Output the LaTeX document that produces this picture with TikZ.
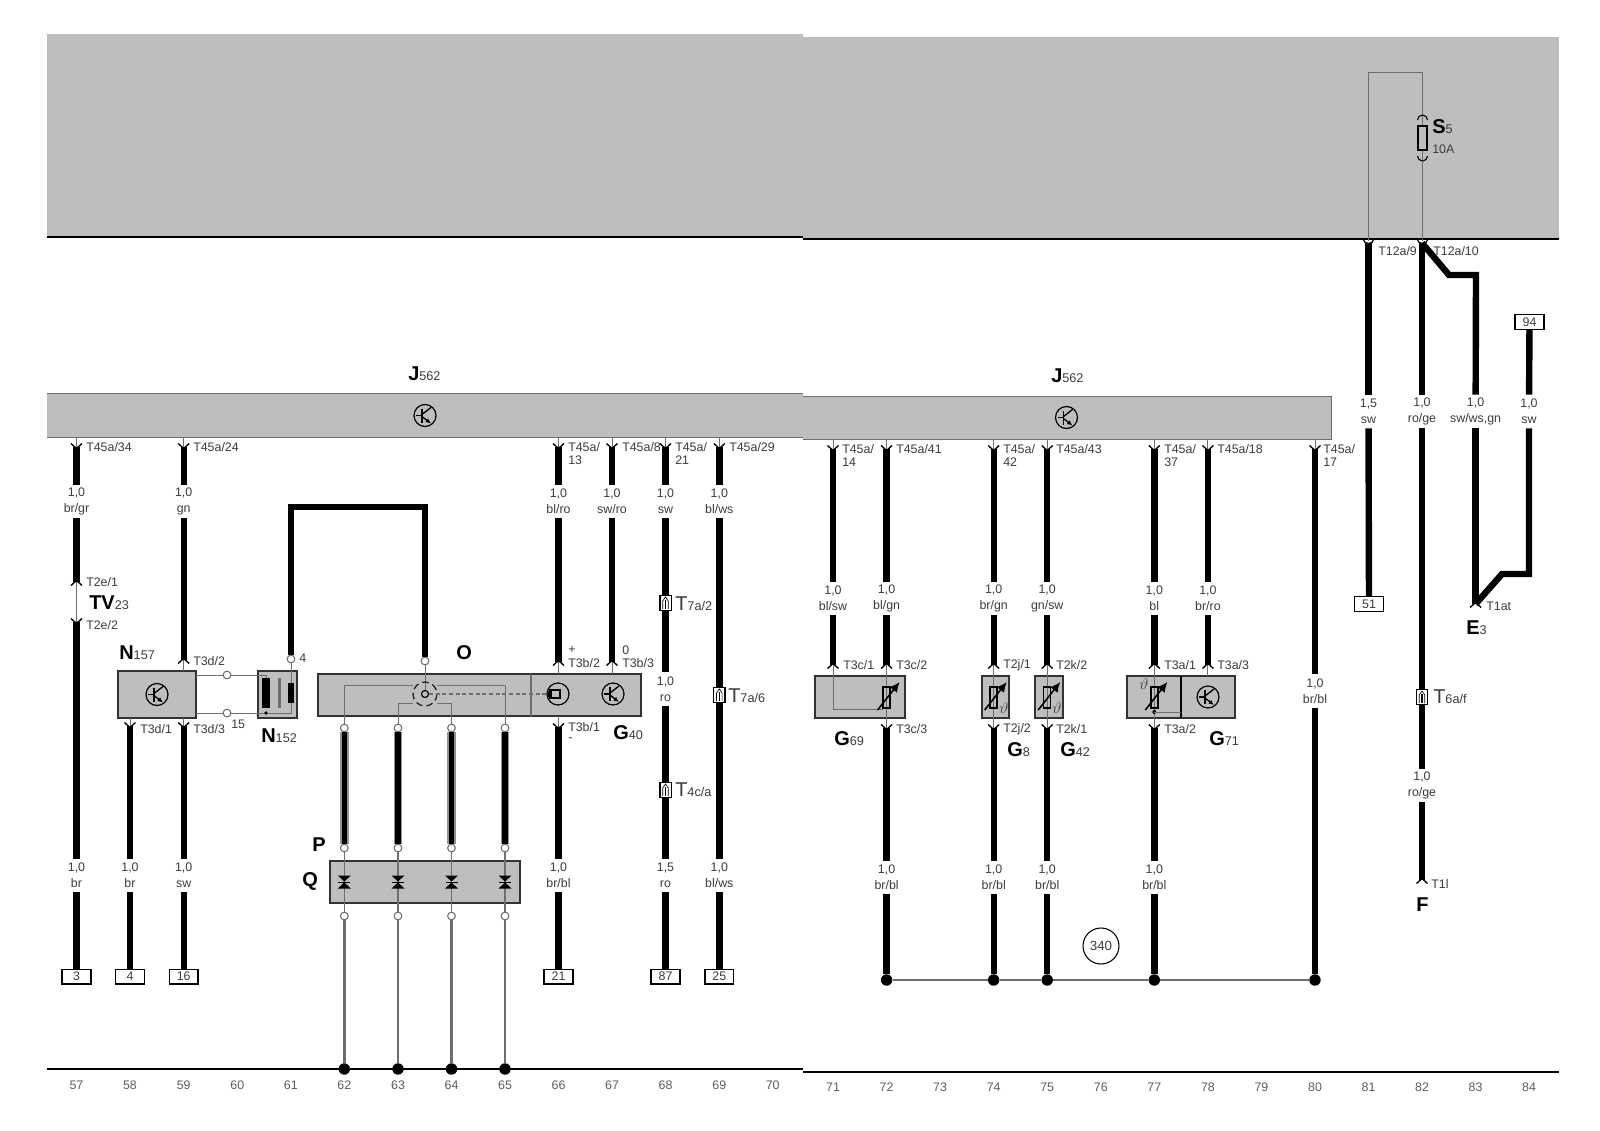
\documentclass[tikz,border=0pt]{standalone}
\usepackage{fontspec}
\setmainfont{Liberation Sans}
\usetikzlibrary{arrows.meta}
\definecolor{band}{HTML}{BEBEBE}
\definecolor{txt}{HTML}{3C3C3C}
\definecolor{thinc}{HTML}{6E6E6E}
\newcounter{lb}
\tikzset{
 wire/.style={line width=4.8pt,black,line cap=butt,line join=miter},
 halo/.style={line width=6.4pt,thinc!75},
 thinl/.style={line width=0.7pt,thinc},
 greyl/.style={line width=1.9pt,thinc},
 pinw/.style={line width=1pt,black},
 lab/.style={font=\fontsize{9.3}{10}\selectfont,text=txt,inner sep=0pt,anchor=west,align=left},
 num/.style={font=\fontsize{9.3}{10}\selectfont,text=thinc!85!black,inner sep=0pt},
 xs/.style={font=\fontsize{9.3}{12}\selectfont,text=txt,inner sep=0pt,align=center,minimum height=24.9pt,minimum width=10pt},
 endbox/.style={draw=black,line width=1pt,fill=white,font=\fontsize{9.3}{10}\selectfont,text=txt,inner sep=0pt,minimum width=21.6pt,minimum height=11pt},
 big/.style={inner sep=0pt,anchor=west,text=black},
 gb/.style={draw=black!80,line width=1.2pt,fill=band},
 pinc/.style={circle,draw=thinc,line width=0.8pt,fill=white,inner sep=0pt,minimum size=5.8pt},
 jdot/.style={circle,fill=black,inner sep=0pt,minimum size=8.6pt},
 conn/.style={draw=black,line width=0.9pt,fill=white,inner sep=0pt,minimum width=8.4pt,minimum height=11pt},
}
\newcommand\lbl[3]{\stepcounter{lb}\node[lab] (L\arabic{lb}) at (#1,#2) {#3};}
\newcommand\thet[2]{\stepcounter{lb}\node[lab,font=\fontsize{12}{12}\selectfont] (L\arabic{lb}) at (#1,#2) {$\vartheta$};}
\newcommand\bl[4]{\stepcounter{lb}\node[big] (L\arabic{lb}) at (#1,#2) {{\fontsize{15}{15}\selectfont\bfseries #3}{\fontsize{9.5}{10}\selectfont\color{txt}#4}};}
\newcommand\tl[4]{\stepcounter{lb}\node[big,text=txt] (L\arabic{lb}) at (#1,#2) {{\fontsize{15}{15}\selectfont #3}{\fontsize{9.5}{10}\selectfont #4}};}
\newcommand\pinD[4]{\coordinate (#1) at (#2,#3);
 \draw[thinl] (#2,#3) -- (#2,#3-#4);
 \draw[pinw] (#2-5.5,#3-3.5) -- (#2,#3+1.5) -- (#2+5.5,#3-3.5);}
\newcommand\pinU[4]{\coordinate (#1) at (#2,#3);
 \draw[thinl] (#2,#3) -- (#2,#3+#4);
 \draw[pinw] (#2-5.5,#3+3.5) -- (#2,#3-1.5) -- (#2+5.5,#3+3.5);}
\newcommand\xsec[4]{\node[xs] (#1) at (#2,#3) {#4};}
\newcommand\ebox[4]{\node[endbox] (#1) at (#2,#3) {#4};}
\newcommand\tsym[3]{\node[circle,draw=black,line width=0.9pt,inner sep=0pt,minimum size=16.5pt] (#1) at (#2,#3) {};
 \draw[line width=1.1pt] (#2-3,#3-7) -- (#2-3,#3+7);
 \draw[line width=1pt] (#2-9,#3) -- (#2-3,#3);
 \draw[line width=1pt] (#2-3,#3-1) -- (#2+6,#3-8);
 \draw[line width=1pt,-{Latex[length=4pt,width=3.5pt]}] (#2-3,#3+1) -- (#2+6,#3+8);}
\newcommand\rsym[1]{\draw[thinl] (#1,676) -- (#1,718);
 \draw[line width=1.1pt,draw=black] (#1-3.5,687) rectangle (#1+3.5,708);
 \draw[line width=1.2pt,-{Latex[length=7.5pt,width=7pt]}] (#1-9,710) -- (#1+13,682);}
\newcommand\csym[3]{\node[conn] (#1) at (#2,#3) {};
 \draw[line width=0.5pt] (#2-2.8,#3+6) -- (#2-2.8,#3-2) -- (#2,#3-6) -- (#2+2.8,#3-2) -- (#2+2.8,#3+6);
 \draw[line width=1.1pt] (#2,#3-3) -- (#2,#3+6);}
\newcommand\diode[1]{\fill (#1-6.5,875.5) -- (#1+6.5,875.5) -- (#1,881.5) -- cycle;
 \fill (#1-6.5,888.5) -- (#1+6.5,888.5) -- (#1,882.5) -- cycle;
 \draw[line width=0.7pt] (#1-6,882) -- (#1+6,882);}
\begin{document}
\begin{tikzpicture}[x=0.75pt,y=-0.75pt]
\useasboundingbox (0,0) rectangle (1600,1131);
\fill[white] (0,0) rectangle (1600,1131);
% bands
\fill[band] (47,34) rectangle (803,237);
\fill[band] (803,37) rectangle (1559,239);
\draw[line width=1.1pt] (47,237) -- (803,237);
\draw[line width=1.1pt] (803,239) -- (1559,239);
\fill[band] (47,393) rectangle (803,437);
\fill[band] (803,396) rectangle (1331,439);
\draw[thinc,line width=0.6pt] (47,393) -- (803,393) (47,437) -- (803,437);
\draw[thinc,line width=0.6pt] (803,396) -- (1331,396) -- (1331,439) -- (803,439);
\draw[line width=1.1pt] (47,1069) -- (803,1069);
\draw[line width=1.1pt] (803,1072) -- (1559,1072);
\tsym{jL}{425}{415.5}
\tsym{jR}{1066.5}{417.5}
\bl{408}{374}{J}{562}
\bl{1051}{376}{J}{562}
% column numbers
\foreach \n/\x in {57/76.5,58/130,59/183.7,60/237.3,61/290.8,62/344.3,63/398,64/451.5,65/505,66/558.5,67/612,68/665.5,69/719.3,70/772.7}
 {\node[num] (n\n) at (\x,1085) {\n};}
\foreach \n/\x in {71/833,72/886.6,73/940,74/993.7,75/1047.2,76/1100.8,77/1154.3,78/1207.9,79/1261.4,80/1315,81/1368.5,82/1422,83/1475.6,84/1529}
 {\node[num] (n\n) at (\x,1087) {\n};}

%% ------- left half -------
% col 57
\pinD{p57a}{76.5}{447}{10}\xsec{x57a}{76.5}{501.5}{1,0\\br/gr}
\pinU{p57b}{76.5}{582}{40}\pinD{p57c}{76.5}{622}{0}
\xsec{x57b}{76.5}{875.5}{1,0\\br}\ebox{b3}{76.5}{976.5}{3}
\draw[wire] (p57a)--(x57a); \draw[wire] (x57a)--(p57b); \draw[wire] (p57c)--(x57b); \draw[wire] (x57b)--(b3);
\lbl{86}{447}{T45a/34}\lbl{86}{582}{T2e/1}\lbl{86}{625}{T2e/2}
\bl{89}{603}{TV}{23}
% N157 + N152
\draw[gb] (118,671) rectangle (196,718);
\tsym{tN157}{157}{694.5}
\bl{119}{653}{N}{157}
% col 58
\pinD{p58a}{130}{726}{8}\xsec{x58}{130}{875.5}{1,0\\br}\ebox{b4}{130}{976.5}{4}
\draw[wire] (p58a)--(x58); \draw[wire] (x58)--(b4);
\lbl{140}{729}{T3d/1}
% col 59
\pinD{p59a}{183.7}{447}{10}\xsec{x59a}{183.7}{501.5}{1,0\\gn}\pinU{p59b}{183.7}{660}{11}
\pinD{p59c}{183.7}{726}{8}\xsec{x59b}{183.7}{875.5}{1,0\\sw}\ebox{b16}{183.7}{976.5}{16}
\draw[wire] (p59a)--(x59a); \draw[wire] (x59a)--(p59b); \draw[wire] (p59c)--(x59b); \draw[wire] (x59b)--(b16);
\lbl{193}{447}{T45a/24}\lbl{193}{661}{T3d/2}\lbl{193}{729}{T3d/3}
% N152
\draw[gb] (258,671) rectangle (297,718);
\fill (262,678) rectangle (270,708);
\fill[thinc] (277.5,678) rectangle (280.5,708);
\fill (288,683) rectangle (294,703);
\node[pinc] (cA) at (227,675) {};
\node[pinc] (cB) at (227,713) {};
\node[pinc] (c4) at (291,659) {};
\node[pinc] (cO) at (425,661) {};
\coordinate (nA) at (196,675); \coordinate (nB) at (196,713);
\coordinate (nA2) at (266,675); \coordinate (nA3) at (266,678);
\coordinate (nB2) at (291,713); \coordinate (nB3) at (291,703); \coordinate (n4) at (291,683);
\draw[thinl] (nA)--(cA); \draw[thinl] (cA)--(nA2)--(nA3);
\draw[thinl] (nB)--(cB); \draw[thinl] (cB)--(nB2)--(nB3);
\draw[thinl] (c4)--(n4);
\fill (266,713) circle (1.8);
\coordinate (loopL) at (291,507); \coordinate (loopR) at (425,507);
\draw[wire] (c4)--(loopL)--(loopR)--(cO);
\lbl{299}{658}{4}\lbl{231}{724}{15}
\bl{261}{736}{N}{152}
% O / G40 box
\draw[gb] (318,674) rectangle (641,716);
\draw[thinc,line width=1pt] (531,674) -- (531,716);
\draw[thinl] (cO) -- (425,690);
\draw[line width=1pt,dash pattern=on 5pt off 3pt,black!85] (425,694) circle (12);
\draw[line width=0.9pt,fill=band] (425,694) circle (3.5);
\draw[line width=1.2pt,dash pattern=on 3pt off 2pt,thinc] (429,694) -- (548,694);
\node[circle,draw=black,line width=0.9pt,inner sep=0pt,minimum size=16.5pt] (g40a) at (558,694) {};
\fill (548,691) rectangle (552,697);
\draw[line width=1pt] (550,690) rectangle (560,698);
\tsym{g40b}{613}{694}
\bl{456}{653}{O}{}
\bl{613}{733}{G}{40}
\bl{312}{845}{P}{}
\bl{302}{881}{Q}{}
% internal lines and P/Q row
\draw[thinl] (344.3,725)--(344.3,685)--(413,685);
\draw[thinl] (437,685)--(505,685)--(505,725);
\draw[thinl] (398,725)--(398,703)--(413,703);
\draw[thinl] (437,703)--(451.5,703)--(451.5,725);
\draw[gb] (330,861) rectangle (520,903);
\foreach \k/\x in {a/344.3,b/398,c/451.5,d/505}{
 \node[pinc] (u\k) at (\x,728) {};
 \node[pinc] (v\k) at (\x,848) {};
 \node[pinc] (w\k) at (\x,916) {};
 \node[jdot] (g\k) at (\x,1069) {};
 \draw[halo] (u\k)--(v\k);
 \draw[wire,line width=4.2pt] (u\k)--(v\k);
 \draw[thinl,line width=1pt] (v\k)--(w\k);
 \draw[greyl] (w\k)--(g\k);
 \diode{\x}
}
% col 66
\pinD{p66a}{558.5}{447}{10}\xsec{x66a}{558.5}{501.5}{1,0\\bl/ro}\pinU{p66b}{558.5}{662}{12}
\pinD{p66c}{558.5}{727}{11}\xsec{x66b}{558.5}{875.5}{1,0\\br/bl}\ebox{b21}{558.5}{976.5}{21}
\draw[wire] (p66a)--(x66a); \draw[wire] (x66a)--(p66b); \draw[wire] (p66c)--(x66b); \draw[wire] (x66b)--(b21);
\lbl{568}{453.5}{T45a/\\13}\lbl{568}{663}{T3b/2}\lbl{568}{727}{T3b/1}
\lbl{568}{650}{+}\lbl{568}{740}{-}
% col 67
\pinD{p67a}{612}{447}{10}\xsec{x67a}{612}{501.5}{1,0\\sw/ro}\pinU{p67b}{612}{662}{12}
\draw[wire] (p67a)--(x67a); \draw[wire] (x67a)--(p67b);
\lbl{622}{447}{T45a/8}\lbl{622}{663}{T3b/3}\lbl{622}{650}{0}
% col 68
\pinD{p68a}{665.5}{447}{10}\xsec{x68a}{665.5}{501.5}{1,0\\sw}
\csym{t7a2}{665.5}{603}\xsec{x68b}{665.5}{689}{1,0\\ro}\csym{t4ca}{665.5}{790}
\xsec{x68c}{665.5}{875.5}{1,5\\ro}\ebox{b87}{665.5}{976.5}{87}
\draw[wire] (p68a)--(x68a); \draw[wire] (x68a)--(t7a2); \draw[wire] (t7a2)--(x68b);
\draw[wire] (x68b)--(t4ca); \draw[wire] (t4ca)--(x68c); \draw[wire] (x68c)--(b87);
\lbl{675}{453.5}{T45a/\\21}
\tl{675}{604}{T}{7a/2}\tl{675}{790}{T}{4c/a}
% col 69
\pinD{p69a}{719.3}{447}{10}\xsec{x69a}{719.3}{501.5}{1,0\\bl/ws}\csym{t7a6}{719.3}{695}
\xsec{x69b}{719.3}{875.5}{1,0\\bl/ws}\ebox{b25}{719.3}{976.5}{25}
\draw[wire] (p69a)--(x69a); \draw[wire] (x69a)--(t7a6); \draw[wire] (t7a6)--(x69b); \draw[wire] (x69b)--(b25);
\lbl{729}{447}{T45a/29}
\tl{728}{696}{T}{7a/6}

%% ------- right half -------
% G69
\draw[gb] (815,676) rectangle (905,718);
\draw[thinl,line width=0.6pt] (833,676)--(833,709)--(883,709);
\rsym{886.6}
\pinD{p71a}{833}{449}{10}\xsec{x71}{833}{598.5}{1,0\\bl/sw}\pinU{p71b}{833}{665}{11}
\draw[wire] (p71a)--(x71); \draw[wire] (x71)--(p71b);
\lbl{842}{455.5}{T45a/\\14}\lbl{843}{665}{T3c/1}
\pinD{p72a}{886.6}{449}{10}\xsec{x72a}{886.6}{598.5}{1,0\\bl/gn}\pinU{p72b}{886.6}{665}{11}
\pinD{p72c}{886.6}{728}{10}\xsec{x72b}{886.6}{877.5}{1,0\\br/bl}\node[jdot] (d72) at (886.6,980) {};
\draw[wire] (p72a)--(x72a); \draw[wire] (x72a)--(p72b); \draw[wire] (p72c)--(x72b); \draw[wire] (x72b)--(d72);
\lbl{896}{449}{T45a/41}\lbl{896}{665}{T3c/2}\lbl{896}{729}{T3c/3}
\bl{834}{739}{G}{69}
% G8
\draw[gb] (982,676) rectangle (1009,718);
\rsym{993.7}
\pinD{p74a}{993.7}{449}{10}\xsec{x74a}{993.7}{598.5}{1,0\\br/gn}\pinU{p74b}{993.7}{665}{11}
\pinD{p74c}{993.7}{728}{10}\xsec{x74b}{993.7}{877.5}{1,0\\br/bl}\node[jdot] (d74) at (993.7,980) {};
\draw[wire] (p74a)--(x74a); \draw[wire] (x74a)--(p74b); \draw[wire] (p74c)--(x74b); \draw[wire] (x74b)--(d74);
\lbl{1003}{455.5}{T45a/\\42}\lbl{1003}{665}{T2j/1}\lbl{1003}{729}{T2j/2}
\thet{999}{708}
\bl{1007}{750}{G}{8}
% G42
\draw[gb] (1035,676) rectangle (1063,718);
\rsym{1047.2}
\pinD{p75a}{1047.2}{449}{10}\xsec{x75a}{1047.2}{598.5}{1,0\\gn/sw}\pinU{p75b}{1047.2}{665}{11}
\pinD{p75c}{1047.2}{728}{10}\xsec{x75b}{1047.2}{877.5}{1,0\\br/bl}\node[jdot] (d75) at (1047.2,980) {};
\draw[wire] (p75a)--(x75a); \draw[wire] (x75a)--(p75b); \draw[wire] (p75c)--(x75b); \draw[wire] (x75b)--(d75);
\lbl{1056}{449}{T45a/43}\lbl{1056}{665}{T2k/2}\lbl{1056}{729}{T2k/1}
\thet{1052}{708}
\bl{1060}{750}{G}{42}
% G71
\draw[gb] (1127,676) rectangle (1235,718);
\draw[line width=1.1pt] (1181,676) -- (1181,718);
\rsym{1154.3}
\fill (1154.3,712) circle (2);
\draw[thinl,line width=0.6pt] (1154.3,712) -- (1181,712);
\tsym{t71}{1208}{697}
\thet{1139}{684}
\pinD{p77a}{1154.3}{449}{10}\xsec{x77a}{1154.3}{598.5}{1,0\\bl}\pinU{p77b}{1154.3}{665}{11}
\pinD{p77c}{1154.3}{728}{10}\xsec{x77b}{1154.3}{877.5}{1,0\\br/bl}\node[jdot] (d77) at (1154.3,980) {};
\draw[wire] (p77a)--(x77a); \draw[wire] (x77a)--(p77b); \draw[wire] (p77c)--(x77b); \draw[wire] (x77b)--(d77);
\lbl{1164}{455.5}{T45a/\\37}\lbl{1164}{665}{T3a/1}\lbl{1164}{729}{T3a/2}
\pinD{p78a}{1207.9}{449}{10}\xsec{x78}{1207.9}{598.5}{1,0\\br/ro}\pinU{p78b}{1207.9}{665}{11}
\draw[wire] (p78a)--(x78); \draw[wire] (x78)--(p78b);
\lbl{1217}{449}{T45a/18}\lbl{1217}{665}{T3a/3}
\bl{1209}{739}{G}{71}
% col 80
\pinD{p80a}{1315}{449}{10}\xsec{x80}{1315}{691}{1,0\\br/bl}\node[jdot] (d80) at (1315,980) {};
\draw[wire] (p80a)--(x80); \draw[wire] (x80)--(d80);
\lbl{1323}{455.5}{T45a/\\17}
% ground bus
\draw[thinl,line width=1pt] (d72)--(d74); \draw[thinl,line width=1pt] (d74)--(d75);
\draw[thinl,line width=1pt] (d75)--(d77); \draw[thinl,line width=1pt] (d77)--(d80);
\node[circle,draw=black,line width=0.8pt,minimum size=27pt,inner sep=0pt,font=\fontsize{10}{10}\selectfont,text=txt] (c340) at (1101,946) {340};
% fuse
\coordinate (topL) at (1368.5,72); \coordinate (topR) at (1422,72);
\coordinate (t81) at (1368.5,241); \coordinate (t82) at (1422,241);
\draw[thinl,line width=0.6pt] (t81)--(topL)--(topR)--(t82);
\draw[line width=1.2pt,fill=band] (1418,126) rectangle (1427,150);
\draw[line width=0.8pt] (1417.5,120) arc (180:360:5);
\draw[line width=0.8pt] (1417.5,156) arc (180:0:5);
\bl{1432}{127}{S}{5}
\lbl{1432}{149}{10A}
% col 81
\coordinate (p81a) at (1368.5,243);\xsec{x81}{1368.5}{411.5}{1,5\\sw}\ebox{b51}{1369}{604}{51}
\draw[wire] (p81a)--(x81); \draw[wire] (x81)--(b51);
\draw[line width=0.9pt] (1363,239) .. controls (1364,245) and (1373,245) .. (1374,239);
\lbl{1378}{251}{T12a/9}
% col 82
\coordinate (p82a) at (1422,243);\xsec{x82a}{1422}{411.5}{1,0\\ro/ge}\csym{t6af}{1422}{697}
\xsec{x82b}{1422}{785.5}{1,0\\ro/ge}\pinU{p82b}{1422}{880}{0}
\draw[wire] (p82a)--(x82a); \draw[wire] (x82a)--(t6af); \draw[wire] (t6af)--(x82b); \draw[wire] (x82b)--(p82b);
\draw[line width=0.9pt] (1417,239) .. controls (1418,245) and (1427,245) .. (1428,239);
\lbl{1433}{251}{T12a/10}
\tl{1433}{697}{T}{6a/f}
\lbl{1431}{884}{T1l}
\bl{1416}{905}{F}{}
% col 83, 84
\coordinate (br1) at (1449,275); \coordinate (br2) at (1476,275);
\xsec{x83}{1475.6}{411.5}{1,0\\sw/ws,gn}\pinU{p83}{1475.6}{604}{0}
\coordinate (e1) at (1502,574); \coordinate (e2) at (1529,574);
\xsec{x84}{1529}{411.5}{1,0\\sw}\ebox{b94}{1529.5}{322}{94}
\draw[wire] (p82a)--(br1)--(br2)--(x83); \draw[wire] (x83)--(p83);
\draw[wire] (p83)--(e1)--(e2)--(x84); \draw[wire] (x84)--(b94);
\lbl{1486}{606}{T1at}
\bl{1466}{628}{E}{3}
\end{tikzpicture}
\end{document}
